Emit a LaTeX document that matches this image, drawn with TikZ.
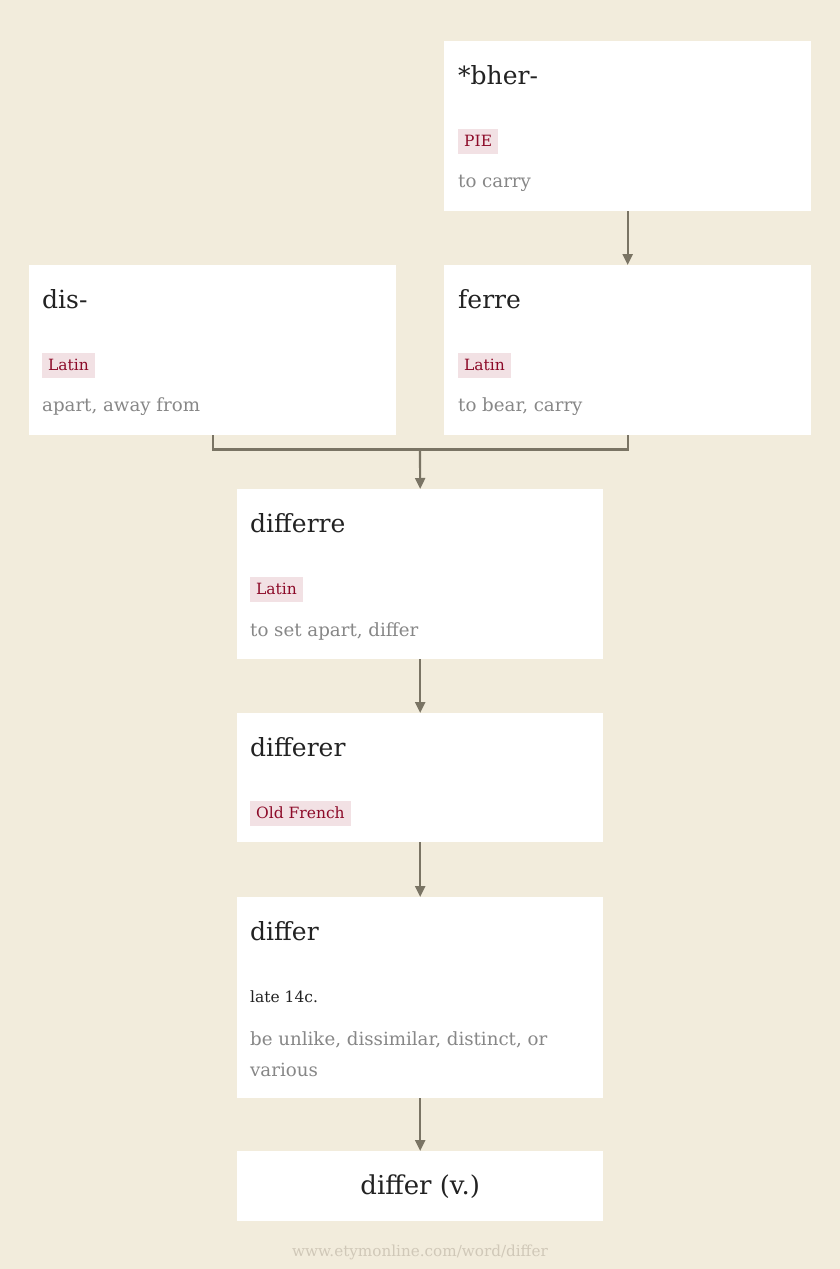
\documentclass[tikz,border=0pt]{standalone}
\usepackage{fontspec}
\setmainfont{DejaVu Serif}
\usetikzlibrary{arrows.meta}
\definecolor{bgc}{RGB}{242,236,220}
\definecolor{headc}{RGB}{34,34,34}
\definecolor{glossc}{RGB}{135,135,135}
\definecolor{tagbg}{RGB}{242,225,228}
\definecolor{tagc}{RGB}{140,10,40}
\definecolor{arrc}{RGB}{122,116,100}
\definecolor{footc}{RGB}{208,200,184}
\begin{document}
\begin{tikzpicture}[x=1pt,y=-1pt,
  box/.style={fill=white, draw=none, anchor=north west, inner sep=0},
  hw/.style={anchor=west, inner sep=0, text=headc, font=\fontsize{25}{28}\selectfont},
  tagbox/.style={anchor=west, fill=tagbg, text=tagc, inner xsep=6pt, inner ysep=0pt, minimum height=25pt, font=\fontsize{15.5}{18}\selectfont},
  datec/.style={anchor=west, inner sep=0, text=headc, font=\fontsize{15.5}{18}\selectfont},
  gl/.style={anchor=west, inner sep=0, text=glossc, align=left, font=\fontsize{18.2}{31}\selectfont},
  conn/.style={draw=arrc, line width=2.2pt},
  arr/.style={conn, -{Triangle[length=11pt,width=10pt]}}]
\useasboundingbox (0,0) rectangle (840,1269);
\fill[bgc] (0,0) rectangle (840,1269);
% boxes
\node[box, minimum width=367pt, minimum height=170pt] (bher) at (444,41) {};
\node[box, minimum width=367pt, minimum height=170pt] (dis) at (29,265) {};
\node[box, minimum width=367pt, minimum height=170pt] (ferre) at (444,265) {};
\node[box, minimum width=366pt, minimum height=170pt] (differre) at (237,489) {};
\node[box, minimum width=366pt, minimum height=129pt] (differer) at (237,713) {};
\node[box, minimum width=366pt, minimum height=201pt] (differ) at (237,897) {};
\node[box, minimum width=366pt, minimum height=70pt] (final) at (237,1151) {};
% texts
\node[hw] (t1) at (458,75) {*bher-};
\node[tagbox] (g1) at (458,141) {PIE};
\node[gl] (s1) at (458,183) {to carry};
\node[hw] (t2) at (42,299) {dis-};
\node[tagbox] (g2) at (42,365) {Latin};
\node[gl] (s2) at (42,407) {apart, away from};
\node[hw] (t3) at (458,299) {ferre};
\node[tagbox] (g3) at (458,365) {Latin};
\node[gl] (s3) at (458,407) {to bear, carry};
\node[hw] (t4) at (250,523) {differre};
\node[tagbox] (g4) at (250,589) {Latin};
\node[gl] (s4) at (250,631) {to set apart, differ};
\node[hw] (t5) at (250,747) {differer};
\node[tagbox] (g5) at (250,813) {Old French};
\node[hw] (t6) at (250,931) {differ};
\node[datec] (d6) at (250,997) {late 14c.};
\node[gl] (s6) at (250,1054.5) {be unlike, dissimilar, distinct, or\\various};
\node[hw, anchor=center, font=\fontsize{26}{28}\selectfont] (t7) at (final.center) {differ (v.)};
\node[inner sep=0, text=footc, font=\fontsize{15.2}{17}\selectfont] (foot) at (420,1252) {www.etymonline.com/word/differ};
% connectors
\coordinate (m) at (420,449);
\draw[arr] (bher.south) -- (ferre.north);
\draw[conn] (dis.south) -- ++(0,14) -| (ferre.south);
\draw[arr] (m) -- (differre.north);
\draw[arr] (differre.south) -- (differer.north);
\draw[arr] (differer.south) -- (differ.north);
\draw[arr] (differ.south) -- (final.north);
\end{tikzpicture}
\end{document}
